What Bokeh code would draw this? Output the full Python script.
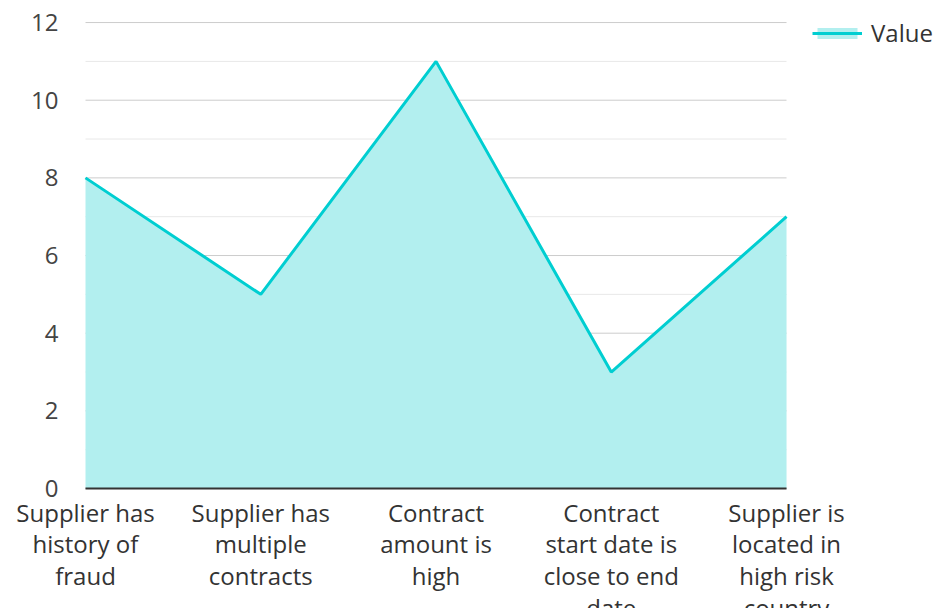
from bokeh.plotting import figure
from bokeh.models import Range1d, Legend, LegendItem, Label, ColumnDataSource
from bokeh.embed import file_html
from bokeh.resources import INLINE

categories = [
    "Supplier has\nhistory of\nfraud",
    "Supplier has\nmultiple\ncontracts",
    "Contract\namount is\nhigh",
    "Contract\nstart date is\nclose to end\ndate",
    "Supplier is\nlocated in\nhigh risk\ncountry",
]
values = [8, 5, 11, 3, 7]
y_ticks = [0, 2, 4, 6, 8, 10, 12]
y_minor = [1, 3, 5, 7, 9, 11]

LINE = "#00CED1"
FILL = "#B2EFEF"
FONT = "Open Sans"

xs = list(range(len(categories)))
x_last = xs[-1]
src = ColumnDataSource(dict(x=xs, y=values, y0=[0] * len(values)))

p = figure(width=935, height=608, output_backend="svg", toolbar_location=None,
           x_range=Range1d(-0.485, 4.85), y_range=Range1d(-3.090, 12.568),
           min_border_left=0, min_border_right=0, min_border_top=0, min_border_bottom=0)
p.outline_line_color = None
p.xgrid.visible = False
p.ygrid.visible = False
p.xaxis.visible = False
p.yaxis.visible = False

# grid lines limited to the category span
p.segment(x0=[0] * len(y_minor), x1=[x_last] * len(y_minor), y0=y_minor, y1=y_minor,
          line_color="#e8e8e8", line_width=1)
p.segment(x0=[0] * len(y_ticks), x1=[x_last] * len(y_ticks), y0=y_ticks, y1=y_ticks,
          line_color="#cccccc", line_width=1)

area = p.varea(x="x", y1="y0", y2="y", source=src, fill_color=FILL, fill_alpha=1)
line = p.line(x="x", y="y", source=src, line_color=LINE, line_width=3)

# category axis baseline
p.segment(x0=[0], x1=[x_last], y0=[0], y1=[0], line_color="#333333", line_width=2)

# value axis tick labels
for t in y_ticks:
    p.add_layout(Label(x=0, y=t, x_units="data", y_units="data", x_offset=-27,
                       text=str(t), text_align="right", text_baseline="middle",
                       text_font=FONT, text_font_size="24px", text_color="#444444"))

# category labels
for i, c in enumerate(categories):
    p.add_layout(Label(x=xs[i], y=0, x_units="data", y_units="data", y_offset=-7,
                       text=c, text_align="center", text_baseline="top",
                       text_font=FONT, text_font_size="24px", text_color="#333333",
                       text_line_height=0.96))

legend = Legend(items=[LegendItem(label="Value", renderers=[area, line])],
                location=(812, 559), border_line_alpha=0, background_fill_alpha=0,
                glyph_width=50, glyph_height=14, label_standoff=9, label_text_font=FONT,
                label_text_font_size="24px", label_text_color="#333333",
                padding=0, margin=0, spacing=0)
p.add_layout(legend, "center")

open("out.html", "w").write(file_html(p, INLINE))
